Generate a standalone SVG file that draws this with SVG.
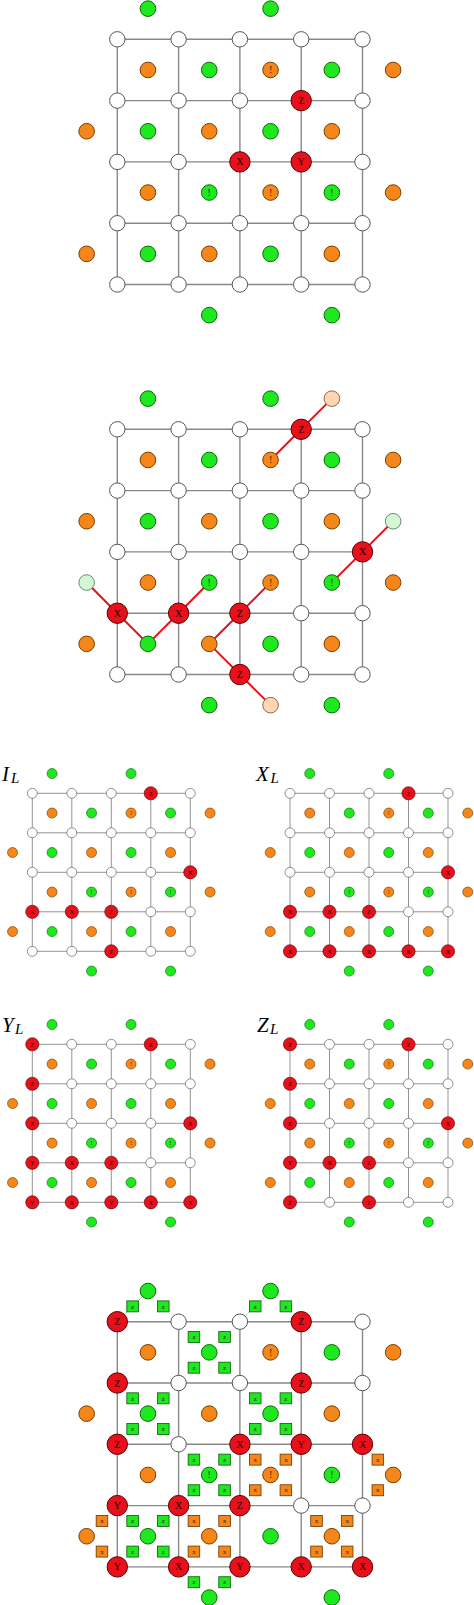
<svg xmlns="http://www.w3.org/2000/svg" width="474" height="1605" viewBox="0 0 474 1605">
<style>
.grid{stroke:#888;stroke-width:1.4;fill:none}
.w{fill:#fff;stroke:#555;stroke-width:1}
.o{fill:#F5871A;stroke:#7a3d00;stroke-width:1}
.g{fill:#1FE81F;stroke:#0b6b0b;stroke-width:1}
.po{fill:#FFD6B0;stroke:#8a6a50;stroke-width:1}
.pg{fill:#D4F7D4;stroke:#6a8a6a;stroke-width:1}
.r{fill:#E8101A;stroke:#5a0000;stroke-width:1}
.t{font-family:"Liberation Serif","DejaVu Serif",serif;font-size:10px;fill:#2a0000;text-anchor:middle}
.ex{font-family:"Liberation Serif","DejaVu Serif",serif;font-size:10px;fill:#3a2000;text-anchor:middle}
.str{stroke:#E8101A;stroke-width:2;fill:none}
.lg{stroke:#8EE88E;stroke-width:1;fill:none}
.sg{fill:#1FE81F;stroke:#0b5b0b;stroke-width:0.8}
.so{fill:#F5871A;stroke:#6a3500;stroke-width:0.8}
.st{font-family:"Liberation Serif","DejaVu Serif",serif;font-size:7px;fill:#222;text-anchor:middle}
.lbl{font-family:"Liberation Serif","DejaVu Serif",serif;font-style:italic;font-size:21px;fill:#000}
.sub{font-size:15px}
</style>
<defs>
<circle id="wn" r="7.7" class="w"/>
<g id="rX"><circle r="10.2" class="r"/><text class="t" y="3.5">X</text></g>
<g id="rY"><circle r="10.2" class="r"/><text class="t" y="3.5">Y</text></g>
<g id="rZ"><circle r="10.2" class="r"/><text class="t" y="3.5">Z</text></g>
<g id="sz"><rect x="-5.8" y="-5.5" width="11.6" height="11" class="sg"/><text class="st" y="2.2">z</text></g>
<g id="sx"><rect x="-5.8" y="-5.5" width="11.6" height="11" class="so"/><text class="st" y="2.2">x</text></g>
<g id="lattice">
<path class="grid" d="M0 0H245.2M0 61.3H245.2M0 122.6H245.2M0 183.9H245.2M0 245.2H245.2M0 0V245.2M61.3 0V245.2M122.6 0V245.2M183.9 0V245.2M245.2 0V245.2"/>
<g>
<use href="#wn" x="0" y="0"/><use href="#wn" x="61.3" y="0"/><use href="#wn" x="122.6" y="0"/><use href="#wn" x="183.9" y="0"/><use href="#wn" x="245.2" y="0"/>
<use href="#wn" x="0" y="61.3"/><use href="#wn" x="61.3" y="61.3"/><use href="#wn" x="122.6" y="61.3"/><use href="#wn" x="183.9" y="61.3"/><use href="#wn" x="245.2" y="61.3"/>
<use href="#wn" x="0" y="122.6"/><use href="#wn" x="61.3" y="122.6"/><use href="#wn" x="122.6" y="122.6"/><use href="#wn" x="183.9" y="122.6"/><use href="#wn" x="245.2" y="122.6"/>
<use href="#wn" x="0" y="183.9"/><use href="#wn" x="61.3" y="183.9"/><use href="#wn" x="122.6" y="183.9"/><use href="#wn" x="183.9" y="183.9"/><use href="#wn" x="245.2" y="183.9"/>
<use href="#wn" x="0" y="245.2"/><use href="#wn" x="61.3" y="245.2"/><use href="#wn" x="122.6" y="245.2"/><use href="#wn" x="183.9" y="245.2"/><use href="#wn" x="245.2" y="245.2"/>
</g>
<g>
<circle class="o" cx="30.65" cy="30.65" r="7.8"/><circle class="g" cx="91.95" cy="30.65" r="7.8"/><circle class="o" cx="153.25" cy="30.65" r="7.8"/><circle class="g" cx="214.55" cy="30.65" r="7.8"/>
<circle class="g" cx="30.65" cy="91.95" r="7.8"/><circle class="o" cx="91.95" cy="91.95" r="7.8"/><circle class="g" cx="153.25" cy="91.95" r="7.8"/><circle class="o" cx="214.55" cy="91.95" r="7.8"/>
<circle class="o" cx="30.65" cy="153.25" r="7.8"/><circle class="g" cx="91.95" cy="153.25" r="7.8"/><circle class="o" cx="153.25" cy="153.25" r="7.8"/><circle class="g" cx="214.55" cy="153.25" r="7.8"/>
<circle class="g" cx="30.65" cy="214.55" r="7.8"/><circle class="o" cx="91.95" cy="214.55" r="7.8"/><circle class="g" cx="153.25" cy="214.55" r="7.8"/><circle class="o" cx="214.55" cy="214.55" r="7.8"/>
<text class="ex" x="153.25" y="34.2">!</text><text class="ex" x="91.95" y="156.8">!</text><text class="ex" x="153.25" y="156.8">!</text><text class="ex" x="214.55" y="156.8">!</text>
</g>
<g>
<circle class="g" cx="30.65" cy="-30.65" r="7.8"/><circle class="g" cx="153.25" cy="-30.65" r="7.8"/>
<circle class="g" cx="91.95" cy="275.85" r="7.8"/><circle class="g" cx="214.55" cy="275.85" r="7.8"/>
<circle class="o" cx="-30.65" cy="91.95" r="7.8"/><circle class="o" cx="-30.65" cy="214.55" r="7.8"/>
<circle class="o" cx="275.85" cy="30.65" r="7.8"/><circle class="o" cx="275.85" cy="153.25" r="7.8"/>
</g>
</g>
</defs>

<g id="panel1" transform="translate(117.3,39.3)">
<use href="#lattice"/>
<g id="p1-z"><use href="#rZ" x="183.9" y="61.3"/></g>
<g id="p1-x"><use href="#rX" x="122.6" y="122.6"/></g>
<g id="p1-y"><use href="#rY" x="183.9" y="122.6"/></g>
</g>

<g id="panel2" transform="translate(117.3,429.3)">
<g id="p2-connectors">
<path class="str" d="M214.55 -30.65L183.9 0L153.25 30.65"/>
<path class="str" d="M275.85 91.95L245.2 122.6L214.55 153.25"/>
<path class="str" d="M-30.65 153.25L0 183.9L30.65 214.55L61.3 183.9L91.95 153.25"/>
<path class="str" d="M153.25 153.25L122.6 183.9L91.95 214.55L122.6 245.2L153.25 275.85"/>
</g>
<use href="#lattice"/>
<g id="p2-ends">
<circle class="po" cx="214.55" cy="-30.65" r="7.8"/>
<circle class="po" cx="153.25" cy="275.85" r="7.8"/>
<circle class="pg" cx="275.85" cy="91.95" r="7.8"/>
<circle class="pg" cx="-30.65" cy="153.25" r="7.8"/>
</g>
<g id="p2-z1"><use href="#rZ" x="183.9" y="0"/></g>
<g id="p2-x1"><use href="#rX" x="245.2" y="122.6"/></g>
<g id="p2-x2"><use href="#rX" x="0" y="183.9"/></g>
<g id="p2-x3"><use href="#rX" x="61.3" y="183.9"/></g>
<g id="p2-z2"><use href="#rZ" x="122.6" y="183.9"/></g>
<g id="p2-z3"><use href="#rZ" x="122.6" y="245.2"/></g>
</g>

<g id="label-IL"><text class="lbl" x="2" y="781">I<tspan class="sub" x="11" y="782.5">L</tspan></text></g>
<g id="panelIL" transform="translate(32.3,793.3) scale(0.6444)">
<use href="#lattice"/>
<use href="#rZ" x="183.9" y="0"/><use href="#rX" x="245.2" y="122.6"/>
<use href="#rX" x="0" y="183.9"/><use href="#rX" x="61.3" y="183.9"/><use href="#rZ" x="122.6" y="183.9"/>
<use href="#rZ" x="122.6" y="245.2"/>
</g>

<g id="label-XL"><text class="lbl" x="256" y="781">X<tspan class="sub" x="270.5" y="782.5">L</tspan></text></g>
<g id="panelXL" transform="translate(290,793.3) scale(0.6444)">
<use href="#lattice"/>
<use href="#rZ" x="183.9" y="0"/><use href="#rX" x="245.2" y="122.6"/>
<use href="#rX" x="0" y="183.9"/><use href="#rX" x="61.3" y="183.9"/><use href="#rZ" x="122.6" y="183.9"/>
<use href="#rX" x="0" y="245.2"/><use href="#rX" x="61.3" y="245.2"/><use href="#rX" x="122.6" y="245.2"/><use href="#rX" x="183.9" y="245.2"/><use href="#rX" x="245.2" y="245.2"/>
</g>

<g id="label-YL"><text class="lbl" x="2" y="1032">Y<tspan class="sub" x="15" y="1033.5">L</tspan></text></g>
<g id="panelYL" transform="translate(32.3,1044.3) scale(0.6444)">
<use href="#lattice"/>
<use href="#rZ" x="0" y="0"/><use href="#rZ" x="183.9" y="0"/>
<use href="#rZ" x="0" y="61.3"/>
<use href="#rZ" x="0" y="122.6"/><use href="#rX" x="245.2" y="122.6"/>
<use href="#rY" x="0" y="183.9"/><use href="#rX" x="61.3" y="183.9"/><use href="#rZ" x="122.6" y="183.9"/>
<use href="#rY" x="0" y="245.2"/><use href="#rX" x="61.3" y="245.2"/><use href="#rY" x="122.6" y="245.2"/><use href="#rX" x="183.9" y="245.2"/><use href="#rX" x="245.2" y="245.2"/>
</g>

<g id="label-ZL"><text class="lbl" x="257" y="1032">Z<tspan class="sub" x="270" y="1033.5">L</tspan></text></g>
<g id="panelZL" transform="translate(290,1044.3) scale(0.6444)">
<use href="#lattice"/>
<use href="#rZ" x="0" y="0"/><use href="#rZ" x="183.9" y="0"/>
<use href="#rZ" x="0" y="61.3"/>
<use href="#rZ" x="0" y="122.6"/><use href="#rX" x="245.2" y="122.6"/>
<use href="#rY" x="0" y="183.9"/><use href="#rX" x="61.3" y="183.9"/><use href="#rZ" x="122.6" y="183.9"/>
<use href="#rZ" x="0" y="245.2"/><use href="#rZ" x="122.6" y="245.2"/>
</g>

<g id="panel5" transform="translate(117.3,1321.7)">
<g id="p5-connectors">
<path class="lg" d="M30.65 -30.65L0 0M153.25 -30.65L122.6 0"/>
</g>
<use href="#lattice"/>
<g id="p5-errors">
<use href="#rZ" x="0" y="0"/><use href="#rZ" x="183.9" y="0"/>
<use href="#rZ" x="0" y="61.3"/><use href="#rZ" x="183.9" y="61.3"/>
<use href="#rZ" x="0" y="122.6"/><use href="#rX" x="122.6" y="122.6"/><use href="#rY" x="183.9" y="122.6"/><use href="#rX" x="245.2" y="122.6"/>
<use href="#rY" x="0" y="183.9"/><use href="#rX" x="61.3" y="183.9"/><use href="#rZ" x="122.6" y="183.9"/>
<use href="#rY" x="0" y="245.2"/><use href="#rX" x="61.3" y="245.2"/><use href="#rY" x="122.6" y="245.2"/><use href="#rX" x="183.9" y="245.2"/><use href="#rX" x="245.2" y="245.2"/>
</g>
<g id="p5-zsquares">
<use href="#sz" x="76.625" y="15.325"/><use href="#sz" x="107.275" y="15.325"/><use href="#sz" x="76.625" y="45.975"/><use href="#sz" x="107.275" y="45.975"/>
<use href="#sz" x="15.325" y="76.625"/><use href="#sz" x="45.975" y="76.625"/><use href="#sz" x="15.325" y="107.275"/><use href="#sz" x="45.975" y="107.275"/>
<use href="#sz" x="137.925" y="76.625"/><use href="#sz" x="168.575" y="76.625"/><use href="#sz" x="137.925" y="107.275"/><use href="#sz" x="168.575" y="107.275"/>
<use href="#sz" x="76.625" y="137.925"/><use href="#sz" x="107.275" y="137.925"/><use href="#sz" x="76.625" y="168.575"/><use href="#sz" x="107.275" y="168.575"/>
<use href="#sz" x="15.325" y="199.225"/><use href="#sz" x="45.975" y="199.225"/><use href="#sz" x="15.325" y="229.875"/><use href="#sz" x="45.975" y="229.875"/>
<use href="#sz" x="15.325" y="-15.325"/><use href="#sz" x="45.975" y="-15.325"/>
<use href="#sz" x="137.925" y="-15.325"/><use href="#sz" x="168.575" y="-15.325"/>
<use href="#sz" x="76.625" y="260.525"/><use href="#sz" x="107.275" y="260.525"/>
</g>
<g id="p5-xsquares">
<use href="#sx" x="137.925" y="137.925"/><use href="#sx" x="168.575" y="137.925"/><use href="#sx" x="137.925" y="168.575"/><use href="#sx" x="168.575" y="168.575"/>
<use href="#sx" x="76.625" y="199.225"/><use href="#sx" x="107.275" y="199.225"/><use href="#sx" x="76.625" y="229.875"/><use href="#sx" x="107.275" y="229.875"/>
<use href="#sx" x="199.225" y="199.225"/><use href="#sx" x="229.875" y="199.225"/><use href="#sx" x="199.225" y="229.875"/><use href="#sx" x="229.875" y="229.875"/>
<use href="#sx" x="260.525" y="137.925"/><use href="#sx" x="260.525" y="168.575"/>
<use href="#sx" x="-15.325" y="199.225"/><use href="#sx" x="-15.325" y="229.875"/>
</g>
</g>
</svg>
